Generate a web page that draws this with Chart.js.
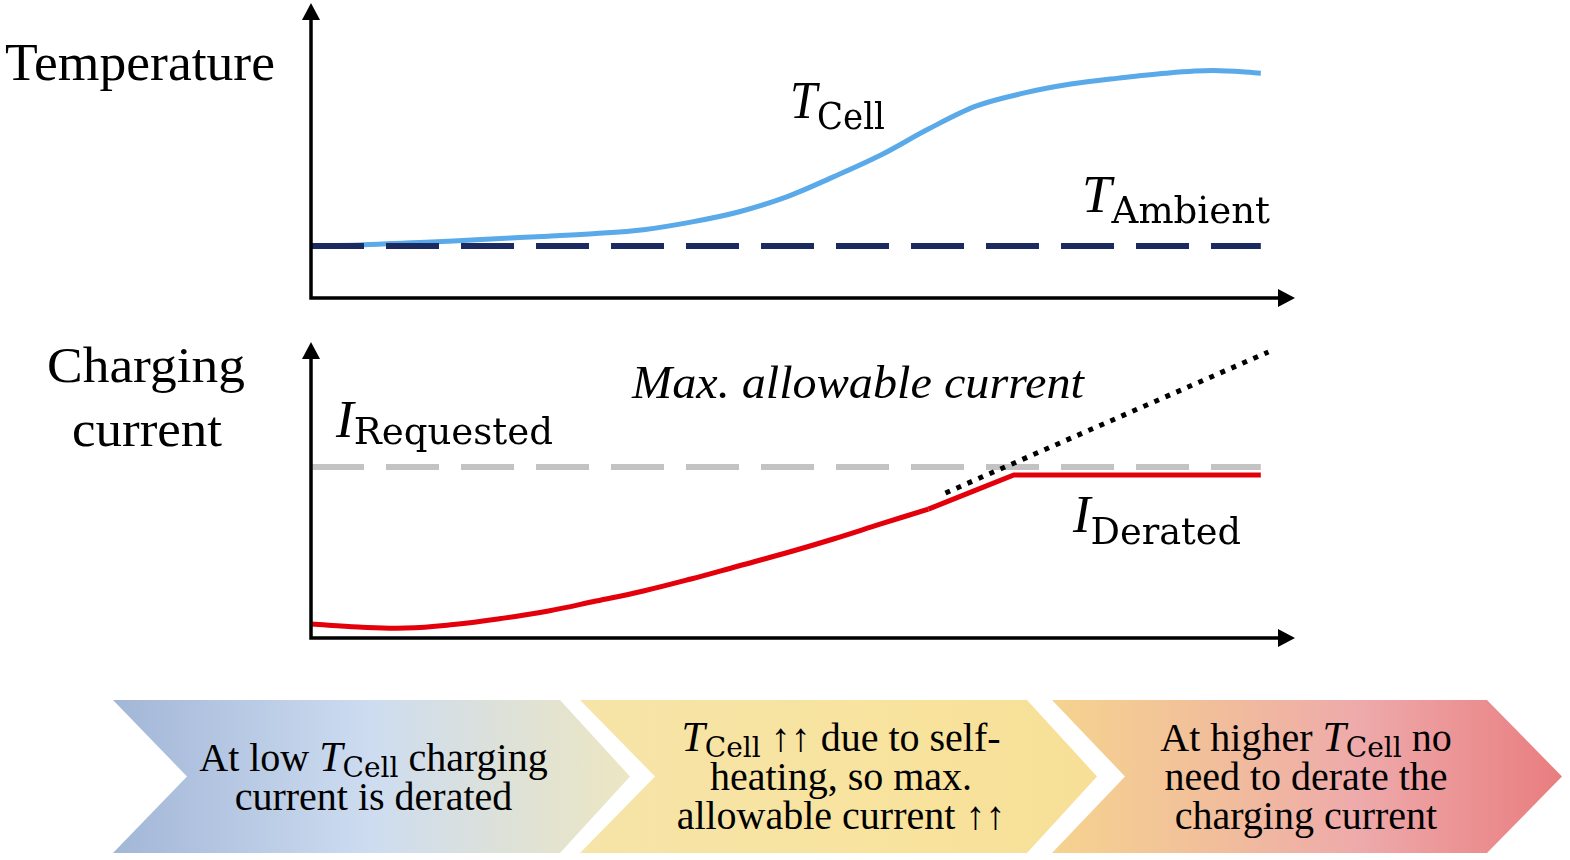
<!DOCTYPE html>
<html>
<head>
<meta charset="utf-8">
<script src="https://cdn.jsdelivr.net/npm/chart.js@4.4.1/dist/chart.umd.min.js"></script>
<style>
    html, body { margin: 0; padding: 0; background: #fff; }
    body { width: 1570px; height: 860px; position: relative; overflow: hidden; }
    canvas { position: absolute; left: 0; }
    #temp-chart { top: 0; }
    #current-chart { top: 320px; }
    .lbl { position: absolute; white-space: nowrap; transform-origin: 0 0; color: #000; }
    .serif { font-family: 'Liberation Serif', serif; }
    .v { font-family: 'Liberation Serif', serif; font-style: italic; }
    .s { font-family: 'DejaVu Serif', serif; }
    .chev { position: absolute; top: 700px; height: 153px; }
    .chev .txt {
        position: absolute; top: 0; height: 153px;
        display: flex; flex-direction: column; justify-content: center; align-items: center;
        font: 40px 'Liberation Serif', serif; line-height: 39px; text-align: center; white-space: nowrap;
    }
    .chev .v { font-size: 42px; line-height: 0; }
    .chev .s { font-size: 28px; line-height: 0; vertical-align: -6px; }
</style>
</head>
<body>
<canvas id="temp-chart" width="1570" height="320"></canvas>
<canvas id="current-chart" width="1570" height="340"></canvas>

<div class="lbl serif" data-x="5" data-b="80" data-w="270" style="font-size:53px">Temperature</div>
<div class="lbl" data-x="790" data-b="118" data-w="95"><span class="v" style="font-size:53px">T</span><span class="s" style="font-size:37px;vertical-align:-11px">Cell</span></div>
<div class="lbl" data-x="1082" data-b="212" data-w="188"><span class="v" style="font-size:53px">T</span><span class="s" style="font-size:37px;vertical-align:-11px">Ambient</span></div>

<div class="lbl serif" data-x="47" data-b="382" data-w="198" style="font-size:50px">Charging</div>
<div class="lbl serif" data-x="72" data-b="446" data-w="150" style="font-size:50px">current</div>
<div class="lbl v" data-x="632" data-b="398" data-w="452" style="font-size:46px">Max. allowable current</div>
<div class="lbl" data-x="336" data-b="437" data-w="217"><span class="v" style="font-size:53px">I</span><span class="s" style="font-size:37px;vertical-align:-7px">Requested</span></div>
<div class="lbl" data-x="1073" data-b="532" data-w="168"><span class="v" style="font-size:53px">I</span><span class="s" style="font-size:37px;vertical-align:-12px">Derated</span></div>

<div class="chev" style="left:113px;width:517px;clip-path:polygon(0 0,447px 0,517px 76.5px,447px 153px,0 153px,74px 76.5px);background:linear-gradient(90deg,#a2b6d7 0%,#cddcf0 50%,#ece6c2 100%)">
    <div class="txt" style="left:74px;width:373px">
        <div>At low <span class="v">T</span><span class="s">Cell</span> charging</div>
        <div>current is derated</div>
    </div>
</div>
<div class="chev" style="left:580px;width:517px;clip-path:polygon(0 0,447px 0,517px 76.5px,447px 153px,0 153px,75px 76.5px);background:linear-gradient(90deg,#f6e4a8 0%,#f8e39e 60%,#f7df96 100%)">
    <div class="txt" style="left:75px;width:372px">
        <div><span class="v">T</span><span class="s">Cell</span> ↑↑ due to self-</div>
        <div>heating, so max.</div>
        <div>allowable current ↑↑</div>
    </div>
</div>
<div class="chev" style="left:1052px;width:510px;clip-path:polygon(0 0,435px 0,510px 76.5px,435px 153px,0 153px,73px 76.5px);background:linear-gradient(90deg,#f5d38f 0%,#f1bc9c 35%,#eeaaab 60%,#e97d7f 100%)">
    <div class="txt" style="left:73px;width:362px">
        <div>At higher <span class="v">T</span><span class="s">Cell</span> no</div>
        <div>need to derate the</div>
        <div>charging current</div>
    </div>
</div>

<script>
// time axis (relative units, 0 = start, 100 = end of curves)
const timeX = [0, 5, 10, 15, 20, 25, 30, 35, 40, 45, 50, 55, 60, 65, 70, 75, 80, 85, 90, 95, 100];
const tCell = [20, 20.4, 21.2, 21.9, 22.9, 23.8, 24.8, 26.3, 29.2, 33.1, 38.8, 46.6, 55.0, 65.0, 73.8, 78.8, 82.3, 84.6, 86.5, 87.5, 86.5];
const ambientX = [0, 100];
const tAmbient = [20, 20];

// derated current: curved part up to the kink, then straight along the limit and flat
const deratedCurveX = [0, 5, 10, 15, 20, 25, 30, 35, 40, 45, 50, 55, 60, 65];
const deratedCurve = [8.2, 6.4, 5.8, 7.9, 11.4, 15.8, 21.6, 27.5, 34.5, 42.1, 49.7, 57.9, 66.7, 75.4];
const deratedLineX = [65, 70, 74, 100];
const deratedLine = [75.4, 86.5, 95.3, 95.3];
const requestedX = [0, 100];
const iRequested = [100, 100];
const maxAllowX = [66.8, 100.8];
const iMaxAllow = [84.8, 167.3];

// axis extents (where the arrow heads sit)
const xAxisEnd = 103.6;
const tempAxisTop = 113.5;
const currentAxisTop = 173.1;

const toPoints = (xs, ys) => xs.map((x, i) => ({ x: x, y: ys[i] }));

// draws the two black axes with arrow heads along the chart area edges
const arrowAxes = {
    id: 'arrowAxes',
    afterDatasetsDraw(chart) {
        const { ctx, chartArea: a } = chart;
        const head = 17, half = 9;
        ctx.save();
        ctx.strokeStyle = '#000';
        ctx.fillStyle = '#000';
        ctx.lineWidth = 3.5;
        ctx.beginPath();
        ctx.moveTo(a.left, a.top + head - 2);
        ctx.lineTo(a.left, a.bottom);
        ctx.lineTo(a.right - head + 2, a.bottom);
        ctx.stroke();
        ctx.beginPath();
        ctx.moveTo(a.left, a.top);
        ctx.lineTo(a.left - half, a.top + head);
        ctx.lineTo(a.left + half, a.top + head);
        ctx.closePath();
        ctx.fill();
        ctx.beginPath();
        ctx.moveTo(a.right, a.bottom);
        ctx.lineTo(a.right - head, a.bottom - half);
        ctx.lineTo(a.right - head, a.bottom + half);
        ctx.closePath();
        ctx.fill();
        ctx.restore();
    }
};

function baseOptions(yMax, padding) {
    return {
        responsive: false,
        animation: false,
        layout: { padding: padding },
        plugins: {
            legend: { display: false },
            tooltip: { enabled: false }
        },
        scales: {
            x: { type: 'linear', display: false, min: 0, max: xAxisEnd },
            y: { type: 'linear', display: false, min: 0, max: yMax }
        },
        elements: { point: { radius: 0 } }
    };
}

function drawCharts() {
    new Chart(document.getElementById('temp-chart'), {
        type: 'line',
        data: {
            datasets: [{
                label: 'T Ambient',
                data: toPoints(ambientX, tAmbient),
                borderColor: '#1b2b60',
                borderWidth: 6,
                borderDash: [53, 22],
                borderCapStyle: 'butt'
            }, {
                label: 'T Cell',
                data: toPoints(timeX, tCell),
                borderColor: '#5aa9e8',
                borderWidth: 5,
                cubicInterpolationMode: 'monotone'
            }]
        },
        options: baseOptions(tempAxisTop, { left: 311, right: 275, top: 3, bottom: 22 }),
        plugins: [arrowAxes]
    });

    new Chart(document.getElementById('current-chart'), {
        type: 'line',
        data: {
            datasets: [{
                label: 'Max. allowable current',
                data: toPoints(maxAllowX, iMaxAllow),
                borderColor: '#000',
                borderWidth: 5,
                borderDash: [5, 7],
                borderCapStyle: 'butt'
            }, {
                label: 'I Derated',
                data: toPoints(deratedCurveX, deratedCurve),
                borderColor: '#e3000b',
                borderWidth: 5,
                tension: 0.4
            }, {
                label: 'I Derated (limited)',
                data: toPoints(deratedLineX, deratedLine),
                borderColor: '#e3000b',
                borderWidth: 5,
                borderJoinStyle: 'miter',
                tension: 0
            }, {
                label: 'I Requested',
                data: toPoints(requestedX, iRequested),
                borderColor: '#c3c3c3',
                borderWidth: 6,
                borderDash: [53, 22],
                borderCapStyle: 'butt'
            }]
        },
        options: baseOptions(currentAxisTop, { left: 311, right: 275, top: 22, bottom: 22 }),
        plugins: [arrowAxes]
    });
}

// put each label's baseline at data-b and stretch it to data-w
function placeLabels() {
    document.querySelectorAll('.lbl').forEach(function (el) {
        const probe = document.createElement('span');
        probe.style.display = 'inline-block';
        el.appendChild(probe);
        el.style.left = el.dataset.x + 'px';
        el.style.top = '0px';
        const base = probe.getBoundingClientRect().bottom - el.getBoundingClientRect().top;
        el.style.top = (el.dataset.b - base) + 'px';
        if (el.dataset.w) {
            const w = el.getBoundingClientRect().width;
            el.style.transform = 'scaleX(' + (el.dataset.w / w) + ')';
        }
    });
}

drawCharts();
document.fonts.ready.then(placeLabels);
</script>
</body>
</html>
